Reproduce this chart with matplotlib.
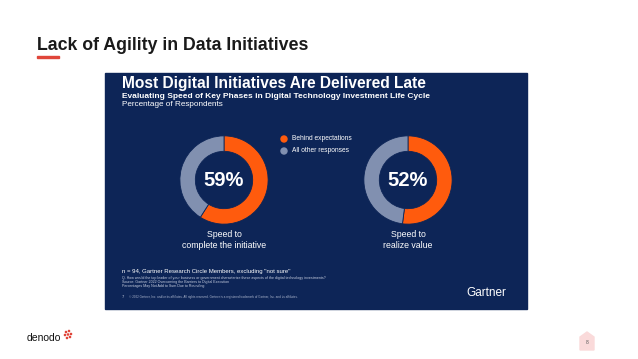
import matplotlib.pyplot as plt
from matplotlib.patches import Rectangle, Polygon, Circle

# data
charts = ["Speed to\ncomplete the initiative", "Speed to\nrealize value"]
behind = [59, 52]
other = [41, 48]
legend_labels = ["Behind expectations", "All other responses"]

NAVY = "#0d2557"
ORANGE = "#ff5b0d"
GRAY = "#8190b0"

W, H = 638, 359
plt.rcParams["font.family"] = ["Liberation Sans", "DejaVu Sans"]

fig = plt.figure(figsize=(W / 100, H / 100), dpi=100)
fig.patch.set_facecolor("white")

# background axes in pixel coords (y down)
bg = fig.add_axes([0, 0, 1, 1], zorder=0)
bg.set_xlim(0, W)
bg.set_ylim(H, 0)
bg.axis("off")


def fx(x):
    return x / W


def fy(y):
    return 1 - y / H


# slide title
bg.text(37, 45, "Lack of Agility in Data Initiatives", fontsize=12.8,
        fontweight="bold", color="#1a1a1a", va="center", ha="left")
bg.add_patch(Rectangle((37, 56), 22, 2, color="#e0463a"))

# navy panel
bg.add_patch(Rectangle((105, 73), 422, 236, color=NAVY))

bg.text(122, 83.5, "Most Digital Initiatives Are Delivered Late",
        fontsize=11.2, fontweight="bold", color="white", va="center")
bg.text(122, 96.5, "Evaluating Speed of Key Phases in Digital Technology Investment Life Cycle",
        fontsize=6.0, fontweight="bold", color="white", va="center")
bg.text(122, 105, "Percentage of Respondents",
        fontsize=5.9, color="white", va="center")

# legend
for i, (txt, c) in enumerate(zip(legend_labels, [ORANGE, GRAY])):
    y = 139 + i * 12
    bg.add_patch(Circle((284, y), 3, color=c))
    bg.text(292, y, txt, fontsize=4.8, color="white", va="center")

# donuts
centers = [224, 408]
for cx, lab, b, o in zip(centers, charts, behind, other):
    r = 45
    ax = fig.add_axes([fx(cx - r), fy(180 + r), fx(2 * r), 2 * r / H], zorder=1)
    ax.pie([b, o], colors=[ORANGE, GRAY], startangle=90, counterclock=False,
           radius=1, wedgeprops=dict(width=0.35, edgecolor=NAVY, linewidth=0.6))
    ax.set_xlim(-1.02, 1.02)
    ax.set_ylim(-1.02, 1.02)
    ax.set_aspect("equal")
    ax.axis("off")
    ax.text(0, 0, f"{b}%", fontsize=14.5, fontweight="bold", color="white",
            ha="center", va="center")
    bg.text(cx, 240, lab, fontsize=6.3, color="white",
            ha="center", va="center", linespacing=1.15)

# footnotes
bg.text(122, 272, 'n = 94, Gartner Research Circle Members, excluding "not sure"',
        fontsize=4.3, color="white", va="center")
notes = [
    "Q. How would the top leader of your business or government characterize these aspects of the digital technology investments?",
    "Source: Gartner 2022 Overcoming the Barriers to Digital Execution",
    "Percentages May Not Add to Sum Due to Rounding",
]
for i, n in enumerate(notes):
    bg.text(122, 278 + i * 4.2, n, fontsize=2.6, color="#c8cfe0", va="center")
bg.text(122, 297, "7", fontsize=3, color="#c8cfe0", va="center")
bg.text(129, 297,
        "\u00a9 2022 Gartner, Inc. and/or its affiliates. All rights reserved. Gartner is a registered trademark of Gartner, Inc. and its affiliates.",
        fontsize=2.2, color="#aab4cc", va="center")
bg.text(466, 293, "Gartner", fontsize=8.5, color="white", va="center")

# denodo logo
bg.text(27, 338, "denodo", fontsize=7.5, color="#111111", va="center")
for dx, dy in [(0, -3), (3, -4), (5, -1), (4, 2), (1, 3), (-1, 0), (2, -0.5)]:
    bg.add_patch(Circle((66 + dx, 335 + dy), 0.6, color="#e0463a"))

# page number tag
bg.add_patch(Polygon([(580, 350), (580, 337), (587, 332), (594, 337), (594, 350)],
                     closed=True, color="#fadada"))
bg.text(587, 343, "8", fontsize=3.5, color="#555555", ha="center", va="center")

fig.savefig("out.png", dpi=100)
